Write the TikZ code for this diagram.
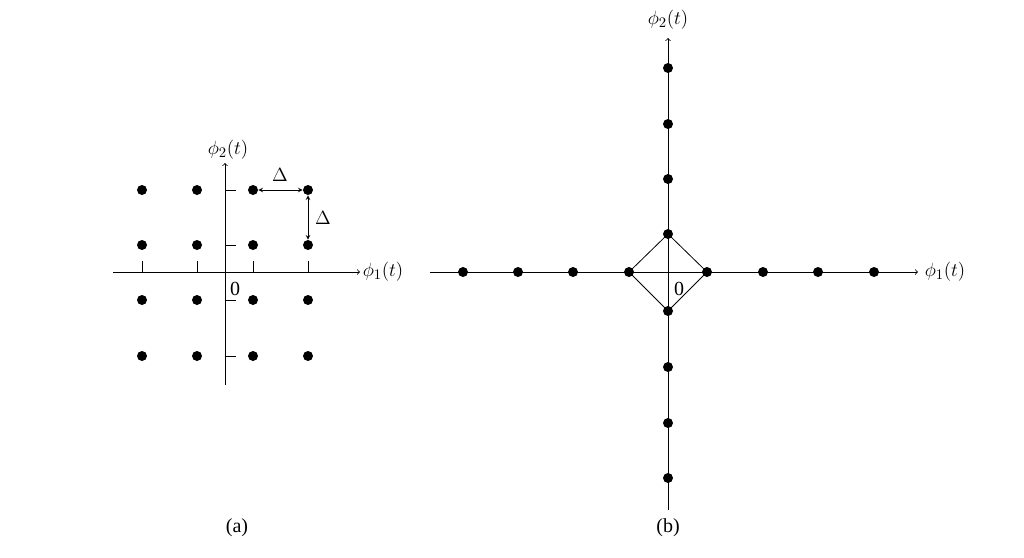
\documentclass[tikz,border=0pt]{standalone}
\usepackage{fontspec}
\setmainfont{Liberation Serif}
\begin{document}
\begin{tikzpicture}[x=0.75pt,y=-0.75pt,
  pt/.style={circle,fill=black,inner sep=0pt,minimum size=7.5pt},
  ax/.style={->,>=to,line width=0.6pt},
  lbl/.style={font=\fontsize{15}{15}\selectfont}]
\useasboundingbox (0,0) rectangle (1024,557);
% panel a
\coordinate (axl) at (113,272); \coordinate (axr) at (360,272);
\coordinate (ayb) at (225,385); \coordinate (ayt) at (225,163);
\draw[ax] (axl) -- (axr);
\draw[ax] (ayb) -- (ayt);
\foreach \x in {142,197,253,308} \draw[line width=0.6pt] (\x,272) -- (\x,261);
\foreach \y in {190,245,300,356} \draw[line width=0.6pt] (225,\y) -- (236,\y);
\foreach \x in {142,197,253,308} \foreach \y in {190,245,300,356} \node[pt] (a\x-\y) at (\x,\y) {};
\draw[<->,>=stealth,line width=0.6pt] (a253-190) -- (a308-190);
\draw[<->,>=stealth,line width=0.6pt] (a308-190) -- (a308-245);
\node[lbl] (d1) at (280,175) {$\Delta$};
\node[lbl] (d2) at (323,218) {$\Delta$};
\node[lbl] (p2a) at (228,150) {$\phi_2(t)$};
\node[lbl] (p1a) at (383,272) {$\phi_1(t)$};
\node[lbl] (za) at (235,289) {0};
\node[lbl] (capa) at (237,528) {(a)};
% panel b
\coordinate (bxl) at (430,272); \coordinate (bxr) at (918,272);
\coordinate (byb) at (668,510); \coordinate (byt) at (668,38);
\draw[ax] (bxl) -- (bxr);
\draw[ax] (byb) -- (byt);
\foreach \x in {463,518,573,629,707,763,818,874} \node[pt] (bx\x) at (\x,272) {};
\foreach \y in {68,124,179,234,311,367,423,478} \node[pt] (by\y) at (668,\y) {};
\draw[line width=0.6pt] (bx629.center) -- (by234.center) -- (bx707.center) -- (by311.center) -- cycle;
\node[lbl] (p1b) at (945,272) {$\phi_1(t)$};
\node[lbl] (p2b) at (668,20) {$\phi_2(t)$};
\node[lbl] (zb) at (679,289) {0};
\node[lbl] (capb) at (668,528) {(b)};
\end{tikzpicture}
\end{document}
